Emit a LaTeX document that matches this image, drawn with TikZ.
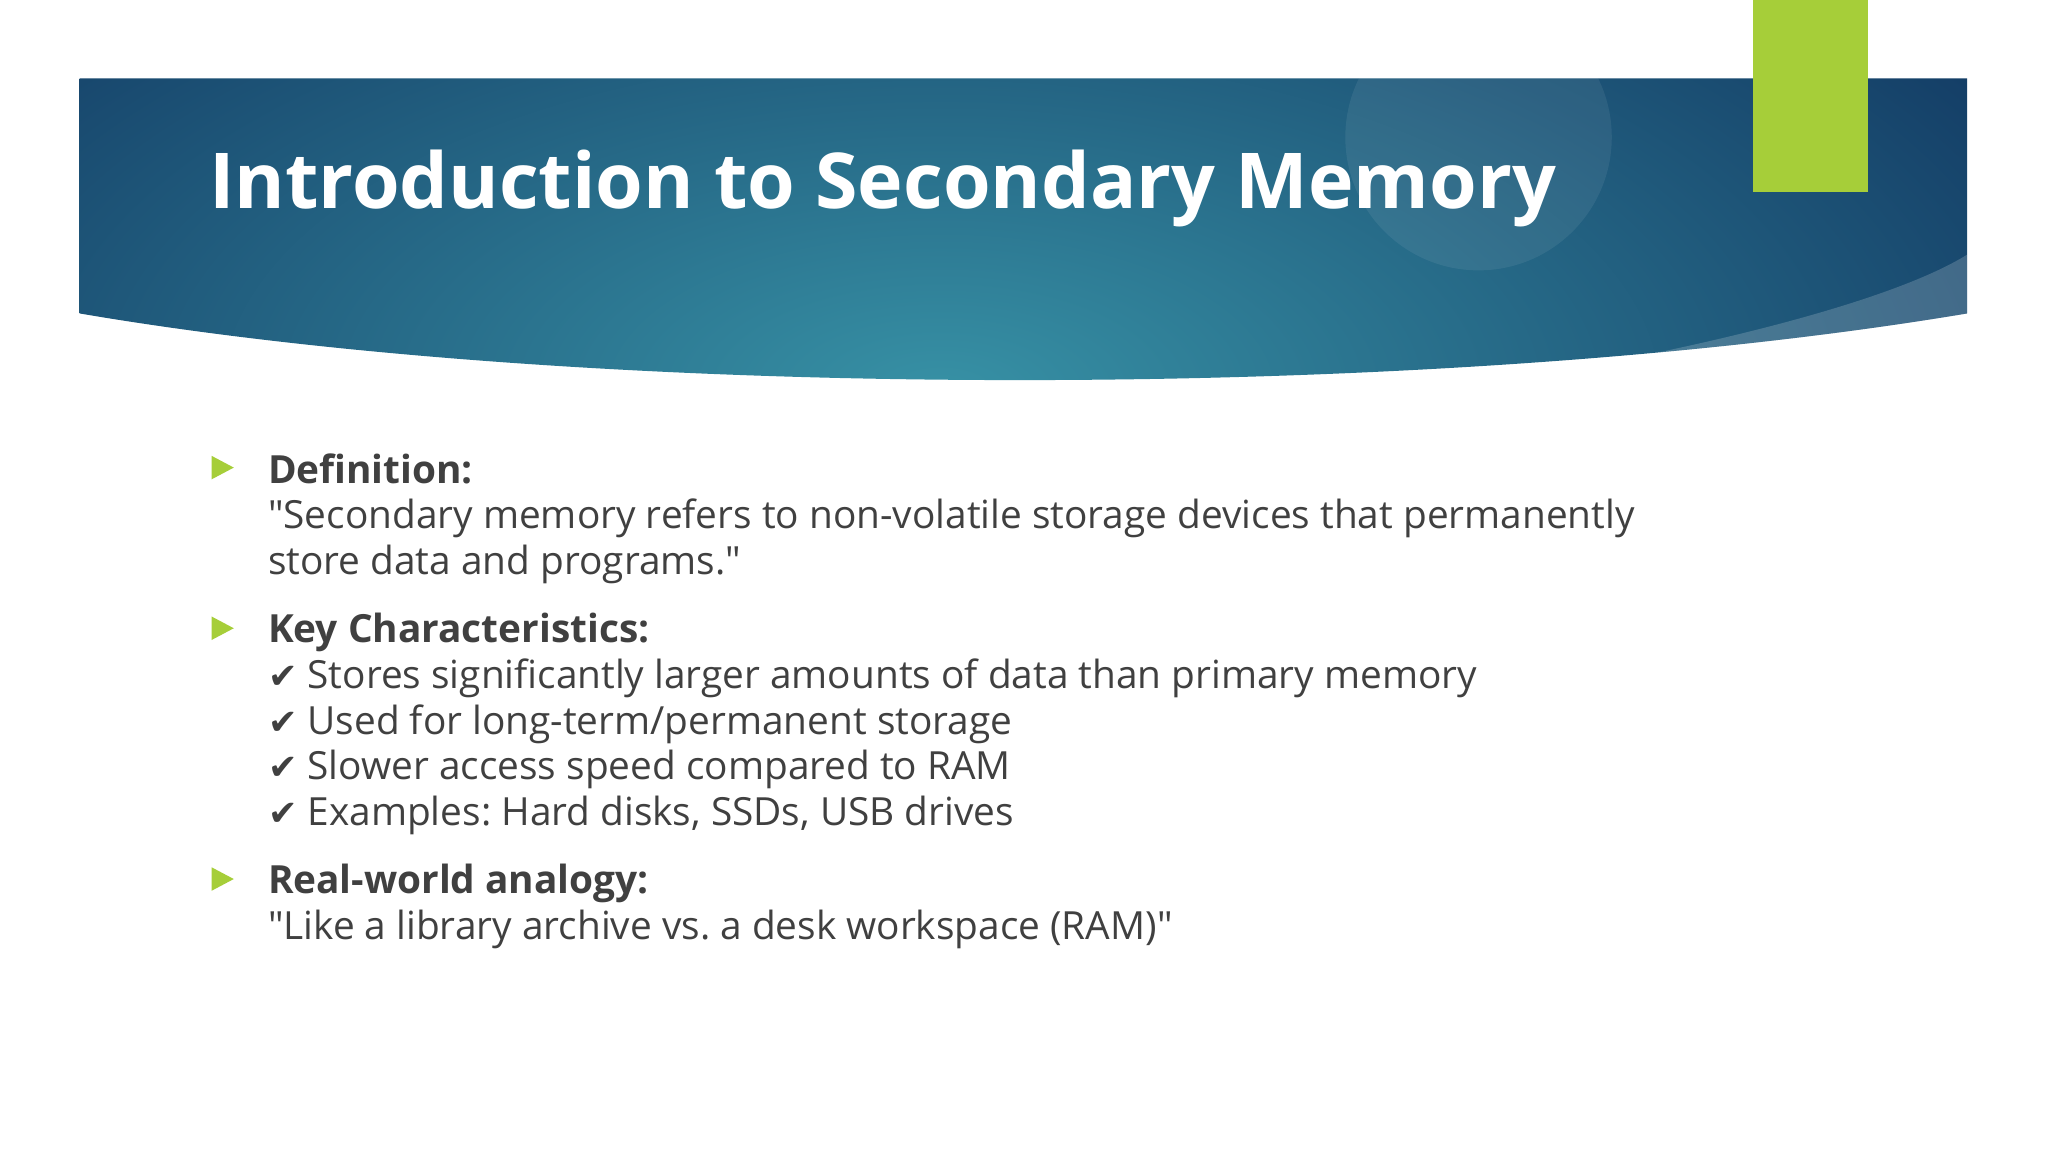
\documentclass[tikz,border=0pt]{standalone}
\usepackage{fontspec}
\setmainfont{Open Sans}
\newfontfamily\sym{DejaVu Sans}
\definecolor{navy}{RGB}{14,48,92}
\definecolor{teal1}{RGB}{55,145,165}
\definecolor{lgreen}{RGB}{166,206,57}
\definecolor{txt}{RGB}{64,64,64}
\newcommand{\ck}{{\sym\fontsize{27}{30}\selectfont ✔}}
\tikzset{body/.style={anchor=base west,inner sep=0pt,font=\fontsize{29.7}{35}\selectfont,text=txt},
 tri/.style={fill=lgreen,draw=none}}
\frenchspacing
\begin{document}
\begin{tikzpicture}[x=1pt,y=-1pt]
\useasboundingbox (0,0) rectangle (1568,882);
\fill[white] (0,0) rectangle (1568,882);
\begin{scope}
\clip (61,60) -- (1506,60) -- (1506,240) .. controls (1100,308) and (460,308) .. (61,240) -- cycle;
\shade[inner color=teal1,outer color=navy] (720,300) ellipse (1100 and 520);
\fill[white,opacity=0.07] (1132,105) circle (102);
\fill[white,opacity=0.18] (1100,300) .. controls (1300,270) and (1450,230) .. (1506,195) -- (1506,300) -- cycle;
\end{scope}
\fill[lgreen] (1342,0) rectangle (1430,147);
\node[anchor=base west,inner sep=0pt,text=white,font=\fontsize{59}{66}\selectfont\bfseries] (title) at (160,160) {Introduction to Secondary Memory};
\foreach \y/\n in {358/t1,481/t2,673/t3}{\fill[tri] (162,\y-9) -- (179,\y) -- (162,\y+9) -- cycle;}
\node[body,font=\fontsize{29.7}{35}\selectfont\bfseries] (d) at (205,370) {Definition:};
\node[body] (d1) at (205,405) {\textquotedbl Secondary memory refers to non-volatile storage devices that permanently};
\node[body] (d2) at (205,440) {store data and programs.\textquotedbl};
\node[body,font=\fontsize{29.7}{35}\selectfont\bfseries] (k) at (205,492) {Key Characteristics:};
\node[body] (k1) at (205,527) {\ck\ Stores significantly larger amounts of data than primary memory};
\node[body] (k2) at (205,562) {\ck\ Used for long-term/permanent storage};
\node[body] (k3) at (205,597) {\ck\ Slower access speed compared to RAM};
\node[body] (k4) at (205,632) {\ck\ Examples: Hard disks, SSDs, USB drives};
\node[body,font=\fontsize{29.7}{35}\selectfont\bfseries] (r) at (205,684) {Real-world analogy:};
\node[body] (r1) at (205,719) {\textquotedbl Like a library archive vs. a desk workspace (RAM)\textquotedbl};
\end{tikzpicture}
\end{document}
